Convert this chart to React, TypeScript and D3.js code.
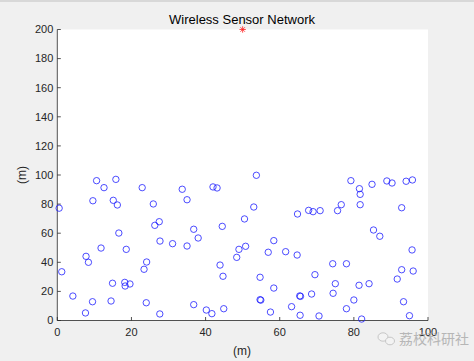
import React from "react";
import * as d3 from "d3";

const title = "Wireless Sensor Network";
const xTicks = [0, 20, 40, 60, 80, 100];
const yTicks = [0, 20, 40, 60, 80, 100, 120, 140, 160, 180, 200];
const sink = { x: 50, y: 200 };

const nodeX = [
  0.5, 1.2, 4.2, 7.6, 7.75, 8.4, 9.5, 9.6, 10.6, 11.8,
  12.6, 14.5, 14.9, 15.1, 15.8, 16.2, 16.6, 18.2, 18.3, 18.6,
  19.6, 22.9, 23.4, 24.0, 24.1, 25.9, 26.3, 27.5, 27.7, 27.65,
  31.1, 33.7, 35.0, 35.0, 36.8, 38.0, 36.8, 40.2, 41.7, 42.0,
  43.1, 44.5, 43.9, 44.7, 44.9, 49.0, 48.4,
  53.7, 53.0, 50.5, 50.8, 58.4, 56.9, 61.6, 64.7, 54.7, 58.4,
  54.7, 54.9, 57.5, 64.8, 67.8, 69.0, 70.9, 75.6, 76.6, 79.2,
  81.5, 81.7, 81.7, 84.9, 88.9, 90.3, 94.1, 95.8, 92.9, 85.3,
  87.0, 95.7, 74.3, 78.0, 69.5, 92.9, 96.0, 91.7, 75.0, 81.4,
  84.1, 65.4, 65.6, 68.6, 74.4, 63.2, 65.5, 70.6, 78.0, 80.0,
  82.1, 93.4, 95.0
];
const nodeY = [
  77.2, 33.5, 16.8, 5.2, 44.1, 40.0, 12.9, 82.3, 96.1, 49.8,
  91.3, 13.4, 25.6, 82.6, 97.0, 79.4, 60.1, 26.2, 23.7, 48.9,
  25.1, 91.3, 35.2, 12.2, 40.2, 80.1, 65.4, 67.9, 54.6, 4.5,
  52.8, 90.2, 83.0, 51.2, 62.7, 56.7, 10.9, 7.2, 4.7, 91.8,
  91.1, 64.7, 38.1, 30.4, 8.1, 48.9, 43.4,
  99.8, 78.0, 69.8, 51.0, 54.9, 46.9, 47.3, 45.0, 29.7, 22.3,
  14.3, 14.0, 5.8, 73.2, 75.7, 74.8, 75.5, 75.5, 79.6, 96.1,
  90.6, 86.7, 79.6, 93.6, 95.9, 94.5, 95.7, 96.6, 77.5, 62.2,
  57.9, 48.5, 39.0, 39.0, 31.5, 34.9, 34.0, 28.5, 25.3, 24.2,
  25.3, 16.9, 16.6, 18.2, 18.7, 9.5, 3.6, 3.1, 8.1, 14.1,
  1.0, 12.9, 3.3
];

const W = 474;
const H = 361;
const left = 57.3;
const right = 428;
const top = 29.5;
const bottom = 320.5;
const font = "'Liberation Sans', Arial, Helvetica, sans-serif";
const axisColor = "#262626";

export default function App() {
  const x = d3.scaleLinear().domain([0, 100]).range([left, right]);
  const y = d3.scaleLinear().domain([0, 200]).range([bottom, top]);
  const sx = x(sink.x);
  const sy = y(sink.y);
  const a = 3.2;
  return (
    <div style={{ position: "fixed", left: 0, top: 0 }}>
      <svg width={W} height={H} style={{ display: "block", fontFamily: font }}>
        <rect x={0} y={0} width={W} height={H} fill="#f0f0f0" />
        <rect x={0} y={0} width={W} height={2} fill="#d8d8d8" />
        <rect x={left} y={top} width={right - left} height={bottom - top} fill="#ffffff" />
        {/* axes */}
        <line x1={left} y1={top} x2={left} y2={bottom} stroke={axisColor} strokeWidth={0.8} />
        <line x1={left} y1={bottom} x2={right} y2={bottom} stroke={axisColor} strokeWidth={0.8} />
        {yTicks.map((t) => (
          <g key={"y" + t}>
            <line x1={left} x2={left + 3.5} y1={y(t)} y2={y(t)} stroke={axisColor} strokeWidth={0.8} />
            <text x={left - 4} y={y(t)} dy="0.35em" textAnchor="end" fontSize={11} fill={axisColor}>
              {t}
            </text>
          </g>
        ))}
        {xTicks.map((t) => (
          <g key={"x" + t}>
            <line x1={x(t)} x2={x(t)} y1={bottom} y2={bottom - 3.5} stroke={axisColor} strokeWidth={0.8} />
            <text x={x(t)} y={bottom + 15} textAnchor="middle" fontSize={11} fill={axisColor}>
              {t}
            </text>
          </g>
        ))}
        {/* nodes */}
        {nodeX.map((v, i) => (
          <circle key={i} cx={x(v)} cy={y(nodeY[i])} r={3.2} fill="none" stroke="#2020ff" strokeWidth={0.8} />
        ))}
        {/* sink */}
        <g stroke="#ff2020" strokeWidth={0.8}>
          <line x1={sx - a} x2={sx + a} y1={sy} y2={sy} />
          <line x1={sx} x2={sx} y1={sy - a} y2={sy + a} />
          <line x1={sx - a * 0.7} x2={sx + a * 0.7} y1={sy - a * 0.7} y2={sy + a * 0.7} />
          <line x1={sx - a * 0.7} x2={sx + a * 0.7} y1={sy + a * 0.7} y2={sy - a * 0.7} />
        </g>
        <text x={242} y={24} textAnchor="middle" fontSize={13} fill="#000">
          {title}
        </text>
        <text x={242} y={355} textAnchor="middle" fontSize={12} fill={axisColor}>
          (m)
        </text>
        <text transform={`translate(26,175) rotate(-90)`} textAnchor="middle" fontSize={12} fill={axisColor}>
          (m)
        </text>
        {/* watermark */}
        <g opacity={0.8}>
          <ellipse cx={383} cy={337} rx={5} ry={4.2} fill="#f4f4f4" stroke="#bdbdbd" strokeWidth={1} />
          <ellipse cx={390} cy={341} rx={4.5} ry={3.8} fill="#f4f4f4" stroke="#bdbdbd" strokeWidth={1} />
          <text x={399} y={344} fontSize={14} fill="#a8a8a8" fontFamily="'Noto Sans CJK SC', sans-serif">
            荔校科研社
          </text>
        </g>
      </svg>
    </div>
  );
}
